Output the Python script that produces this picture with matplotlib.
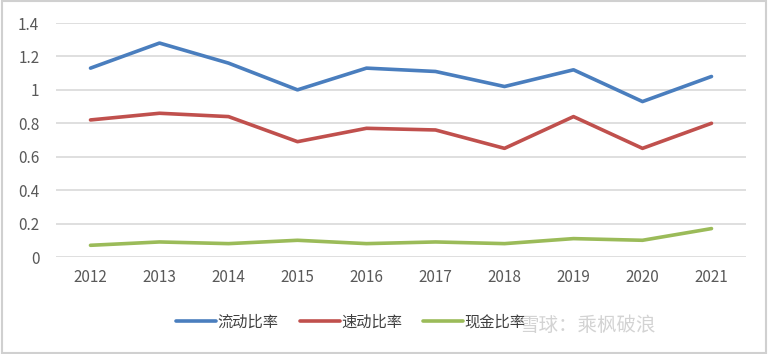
import matplotlib
matplotlib.use("Agg")
import matplotlib.pyplot as plt
from matplotlib.patches import Rectangle

plt.rcParams['font.family'] = ['Noto Sans CJK SC', 'DejaVu Sans']

years = ['2012', '2013', '2014', '2015', '2016', '2017', '2018', '2019', '2020', '2021']
current_ratio = [1.13, 1.28, 1.16, 1.00, 1.13, 1.11, 1.02, 1.12, 0.93, 1.08]
quick_ratio = [0.82, 0.86, 0.84, 0.69, 0.77, 0.76, 0.65, 0.84, 0.65, 0.80]
cash_ratio = [0.07, 0.09, 0.08, 0.10, 0.08, 0.09, 0.08, 0.11, 0.10, 0.17]
series_names = ['流动比率', '速动比率', '现金比率']
colors = ['#4A7EBE', '#C0504D', '#9BBB59']

fig = plt.figure(figsize=(7.68, 3.54), dpi=100)
ax = fig.add_axes([56 / 768, 1 - 257 / 354, 690 / 768, 234 / 354])

x = range(len(years))
for vals, name, c in zip([current_ratio, quick_ratio, cash_ratio], series_names, colors):
    ax.plot(x, vals, color=c, lw=2.6, label=name, solid_capstyle='round')

ax.set_xlim(-0.5, len(years) - 0.5)
ax.set_ylim(0, 1.4)
ax.set_yticks([0, 0.2, 0.4, 0.6, 0.8, 1.0, 1.2, 1.4])
ax.set_yticklabels(['0', '0.2', '0.4', '0.6', '0.8', '1', '1.2', '1.4'])
ax.set_xticks(list(x))
ax.set_xticklabels(years)
ax.grid(axis='y', color='#D9D9D9', lw=1.2)
ax.set_axisbelow(True)
for s in ax.spines.values():
    s.set_visible(False)
ax.tick_params(length=0, labelsize=11, colors='#595959', pad=9)
ax.tick_params(axis='y', pad=12)

leg = fig.legend(loc='center', bbox_to_anchor=(0.457, 1 - 322 / 354), ncol=3,
                 frameon=False, fontsize=11, handlelength=2.6, columnspacing=1.4,
                 handletextpad=0.1)
for t in leg.get_texts():
    t.set_color('#404040')

fig.text(0.765, 1 - 325 / 354, '雪球：乘枫破浪', fontsize=14, color='#C8C8C8',
         ha='center', va='center', alpha=0.8)

fig.patches.append(Rectangle((0.002, 0.003), 0.996, 0.994, transform=fig.transFigure,
                             fill=False, edgecolor='#D0D0D0', lw=1.5))

fig.savefig('out.png', dpi=100)
